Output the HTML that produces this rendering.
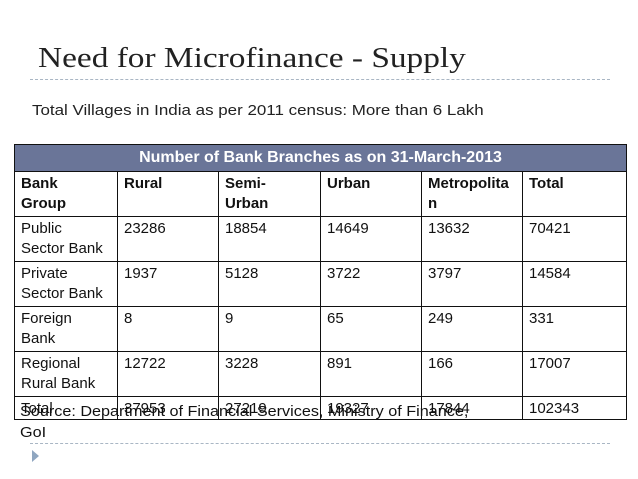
<!DOCTYPE html>
<html><head><meta charset="utf-8"><style>
body{margin:0;width:638px;height:479px;background:#fff;position:relative;overflow:hidden;font-family:"Liberation Sans",sans-serif}
.t{position:absolute;white-space:nowrap;transform-origin:0 0}
table{position:absolute;left:14px;top:144px;width:613px;border-collapse:collapse;font-size:15px;color:#111;table-layout:fixed}
td{border:1.5px solid #111;vertical-align:top;padding:2px 6px 0 6px;line-height:20px;white-space:nowrap;overflow:hidden}
th{background:#6a7598;color:#fff;font-weight:bold;font-size:16px;height:26px;border:1.5px solid #111;padding:0}
tr.r td{height:42px}
tr.h td{font-weight:bold;height:42px}
</style></head><body>
<div class="t" style="left:38px;top:42px;font-family:'Liberation Serif',serif;font-size:29px;color:#222;transform:scaleX(1.15)">Need for Microfinance - Supply</div>
<div style="position:absolute;left:30px;top:79px;width:580px;border-top:1px dashed #a9b6c4"></div>
<div class="t" style="left:32px;top:102px;font-size:15px;color:#222;transform:scaleX(1.13)">Total Villages in India as per 2011 census: More than 6 Lakh</div>
<table>
<colgroup><col style="width:103px"><col style="width:101px"><col style="width:102px"><col style="width:101px"><col style="width:101px"><col></colgroup>
<tr><th colspan="6">Number of Bank Branches as on 31-March-2013</th></tr>
<tr class="h"><td>Bank<br>Group</td><td>Rural</td><td>Semi-<br>Urban</td><td>Urban</td><td>Metropolita<br>n</td><td>Total</td></tr>
<tr class="r"><td>Public<br>Sector Bank</td><td>23286</td><td>18854</td><td>14649</td><td>13632</td><td>70421</td></tr>
<tr class="r"><td>Private<br>Sector Bank</td><td>1937</td><td>5128</td><td>3722</td><td>3797</td><td>14584</td></tr>
<tr class="r"><td>Foreign<br>Bank</td><td>8</td><td>9</td><td>65</td><td>249</td><td>331</td></tr>
<tr class="r"><td>Regional<br>Rural Bank</td><td>12722</td><td>3228</td><td>891</td><td>166</td><td>17007</td></tr>
<tr><td style="height:16px">Total</td><td>37953</td><td>27219</td><td>19327</td><td>17844</td><td>102343</td></tr>
</table>
<div class="t" style="left:20px;top:401px;font-size:15px;color:#111;line-height:21px;transform:scaleX(1.08)">Source: Department of Financial Services, Ministry of Finance,<br>GoI</div>
<div style="position:absolute;left:30px;top:443px;width:580px;border-top:1px dashed #a9b6c4"></div>
<div style="position:absolute;left:32px;top:450px;width:0;height:0;border-left:7px solid #8fa6c0;border-top:6px solid transparent;border-bottom:6px solid transparent"></div>
</body></html>
